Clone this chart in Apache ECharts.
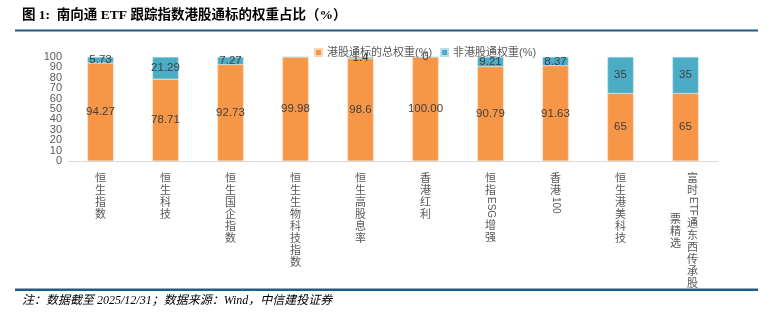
<!DOCTYPE html>
<html>
<head>
<meta charset="utf-8">
<script src="https://cdn.jsdelivr.net/npm/echarts@6/dist/echarts.min.js"></script>
<style>
  html, body { margin: 0; padding: 0; background: #ffffff; }
  #chart { width: 772px; height: 323px; }
</style>
</head>
<body>
<div id="chart"></div>
<script>
// Tracked indices of the southbound ETFs
const categories = [
  '恒生指数', '恒生科技', '恒生国企指数', '恒生生物科技指数', '恒生高股息率',
  '香港红利', '恒指ESG增强', '香港100', '恒生港美科技', '富时ETF通东西传承股票精选'
];
// Weight of Stock Connect eligible constituents (%), as printed on the bars
const connectText = ['94.27', '78.71', '92.73', '99.98', '98.6', '100.00', '90.79', '91.63', '65', '65'];
const connectWeight = connectText.map(Number);
// Weight of non-eligible constituents (%); the tiny remainder on 恒生生物科技指数 carries no label
const nonConnectText = ['5.73', '21.29', '7.27', '', '1.4', '0', '9.21', '8.37', '35', '35'];
const nonConnectWeight = [5.73, 21.29, 7.27, 0.02, 1.4, 0, 9.21, 8.37, 35, 35];
// Value-axis ticks
const yTicks = { min: 0, max: 100, interval: 10 };
const yTickValues = [0, 10, 20, 30, 40, 50, 60, 70, 80, 90, 100];

const seriesNames = ['港股通标的总权重(%)', '非港股通权重(%)'];
const titleText = '图 1:  南向通 ETF 跟踪指数港股通标的权重占比（%）';
const noteText = '注：数据截至 2025/12/31；数据来源：Wind，中信建投证券';

const ORANGE = '#F79646';
const TEAL = '#4BACC6';
const RULE = '#1F5A8A';
const LABEL_GRAY = '#595959';
const NUM_FONT = "'Liberation Sans', 'Noto Sans CJK SC', sans-serif";
const CJK_FONT = "'Noto Sans CJK SC', sans-serif";

// ---- vertical (stacked) category labels -------------------------------
const CJK_SIZE = 11, LINE = 12, LATIN_SIZE = 10, MAX_COL = 122, COL_GAP = 17;
const measureCtx = document.createElement('canvas').getContext('2d');
function latinWidth(s) {
  measureCtx.font = LATIN_SIZE + 'px ' + NUM_FONT;
  return measureCtx.measureText(s).width;
}
// split a name into tokens: single CJK characters, or runs of Latin letters/digits
function tokenize(name) {
  const out = [];
  const re = /[A-Za-z0-9]+|./g;
  let m;
  while ((m = re.exec(name)) !== null) {
    const t = m[0];
    if (/^[A-Za-z0-9]+$/.test(t)) out.push({ t, latin: true, h: latinWidth(t) + 2 });
    else out.push({ t, latin: false, h: LINE });
  }
  return out;
}
function columnsOf(name) {
  const cols = [[]];
  let h = 0;
  tokenize(name).forEach(tok => {
    if (h + tok.h > MAX_COL && cols[cols.length - 1].length) { cols.push([]); h = 0; }
    cols[cols.length - 1].push(tok);
    h += tok.h;
  });
  return cols;
}

function renderCategoryLabel(params, api) {
  const idx = api.value(0);
  const base = api.coord([idx, 0]);
  const cols = columnsOf(categories[idx]);
  const heights = cols.map(c => c.reduce((s, t) => s + t.h, 0));
  const maxH = Math.max.apply(null, heights);
  const top = base[1] + 11;
  const children = [];
  cols.forEach((col, ci) => {
    // columns run right to left, as in vertical typesetting
    const x = base[0] + (cols.length - 1) * COL_GAP / 2 - ci * COL_GAP - (cols.length > 1 ? 1.5 : 0);
    let y = top + (maxH - heights[ci]) / 2;
    col.forEach(tok => {
      children.push({
        type: 'text',
        x: x,
        y: y + tok.h / 2,
        rotation: tok.latin ? -Math.PI / 2 : 0,
        style: {
          text: tok.t,
          fill: LABEL_GRAY,
          font: tok.latin ? (LATIN_SIZE + 'px ' + NUM_FONT) : (CJK_SIZE + 'px ' + CJK_FONT),
          align: 'center',
          verticalAlign: 'middle'
        }
      });
      y += tok.h;
    });
  });
  return { type: 'group', children };
}

// tightly packed value labels: every tick is printed, none auto-hidden
function renderValueLabel(params, api) {
  const v = api.value(1);
  const pt = api.coord([0, v]);
  return {
    type: 'text',
    x: params.coordSys.x - 6,
    y: pt[1],
    style: {
      text: String(v),
      fill: LABEL_GRAY,
      font: '11px ' + NUM_FONT,
      align: 'right',
      verticalAlign: 'middle'
    }
  };
}

const chart = echarts.init(document.getElementById('chart'), null, { renderer: 'canvas' });

chart.setOption({
  animation: false,
  backgroundColor: '#ffffff',
  textStyle: { fontFamily: NUM_FONT },
  graphic: [
    {
      type: 'text', left: 22, top: 9,
      style: { text: titleText, font: "bold 13.5px 'Liberation Serif', 'Noto Sans CJK SC', serif", fill: '#000000' }
    },
    { type: 'rect', shape: { x: 15, y: 29.5, width: 743, height: 2 }, style: { fill: RULE } },
    { type: 'rect', shape: { x: 15, y: 288.5, width: 743, height: 2.5 }, style: { fill: RULE } },
    {
      type: 'text', left: 22, top: 295,
      style: { text: noteText, font: "italic 12px 'Liberation Serif', 'Noto Sans CJK SC', serif", fill: '#000000' }
    }
  ],
  legend: {
    data: seriesNames,
    left: 309,
    top: 42,
    icon: 'rect',
    itemWidth: 7,
    itemHeight: 7,
    itemGap: 8,
    textStyle: { fontSize: 11, color: LABEL_GRAY, fontFamily: NUM_FONT },
    selectedMode: false
  },
  grid: { left: 68, right: 54, top: 57, bottom: 162, containLabel: false },
  xAxis: {
    type: 'category',
    data: categories,
    axisLine: { lineStyle: { color: '#D9D9D9', width: 1 } },
    axisTick: { show: false },
    axisLabel: { show: false }
  },
  yAxis: {
    type: 'value',
    min: yTicks.min,
    max: yTicks.max,
    interval: yTicks.interval,
    axisLine: { show: false },
    axisTick: { show: false },
    splitLine: { show: false },
    axisLabel: { show: false }
  },
  series: [
    {
      name: seriesNames[0],
      type: 'bar',
      stack: 'weight',
      barWidth: 26,
      data: connectWeight,
      itemStyle: { color: ORANGE, borderColor: '#FBD5B5', borderWidth: 0.5 },
      label: {
        show: true,
        position: 'inside',
        color: '#404040',
        fontSize: 11.5,
        fontFamily: NUM_FONT,
        formatter: p => connectText[p.dataIndex]
      }
    },
    {
      name: seriesNames[1],
      type: 'bar',
      stack: 'weight',
      barWidth: 26,
      data: nonConnectWeight,
      itemStyle: { color: TEAL, borderColor: '#B7DEE8', borderWidth: 0.5 },
      label: {
        show: true,
        position: 'inside',
        color: '#404040',
        fontSize: 11.5,
        fontFamily: NUM_FONT,
        formatter: p => nonConnectText[p.dataIndex]
      }
    },
    {
      name: 'categoryLabels',
      type: 'custom',
      silent: true,
      clip: false,
      z: 10,
      encode: { x: 0, y: 1 },
      data: categories.map((c, i) => [i, 0]),
      renderItem: renderCategoryLabel
    },
    {
      name: 'valueLabels',
      type: 'custom',
      silent: true,
      clip: false,
      z: 10,
      encode: { x: 0, y: 1 },
      data: yTickValues.map(v => [0, v]),
      renderItem: renderValueLabel
    }
  ]
});
</script>
</body>
</html>
